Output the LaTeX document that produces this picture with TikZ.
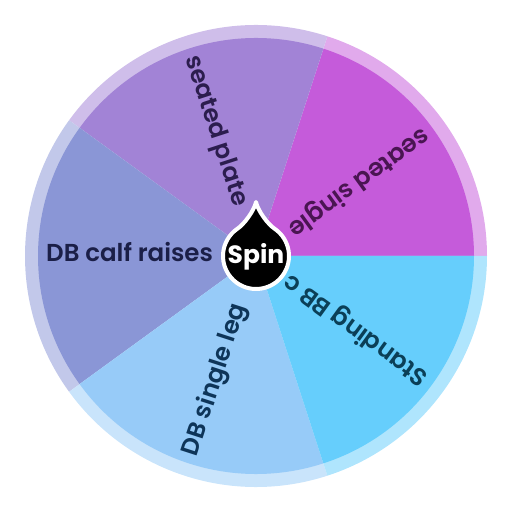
\documentclass[tikz,border=0pt]{standalone}
\usepackage{fontspec}
\newfontfamily\wheelfont{Poppins}[UprightFont=* Medium, BoldFont=* SemiBold]
\newfontfamily\spinfont{Poppins}[UprightFont=* Bold]
\definecolor{segA}{HTML}{C55BDA}
\definecolor{segB}{HTML}{A283D6}
\definecolor{segC}{HTML}{8A96D6}
\definecolor{segD}{HTML}{97CBF8}
\definecolor{segE}{HTML}{66CEFC}
\definecolor{txtA}{HTML}{4A1552}
\definecolor{txtB}{HTML}{2C1D4E}
\definecolor{txtC}{HTML}{1B1F48}
\definecolor{txtD}{HTML}{0E3559}
\definecolor{txtE}{HTML}{0B3F57}
\tikzset{
  wlabel/.style={font=\wheelfont\bfseries\fontsize{24.5}{25}\selectfont, inner sep=0pt, anchor=base west, transform shape},
}
\begin{document}
\begin{tikzpicture}[x=1pt,y=1pt]
\useasboundingbox (0,0) rectangle (512,512);
\coordinate (c) at (256,256);
% sectors with rings
\foreach \s/\col in {0/segA,72/segB,144/segC,216/segD,288/segE}{
  \fill[\col!52!white] (c) -- ++(\s:231) arc[start angle=\s, end angle=\s+72, radius=231] -- cycle;
  \fill[\col] (c) -- ++(\s:218) arc[start angle=\s, end angle=\s+72, radius=218] -- cycle;
}
% labels
\begin{scope}[shift={(c)}]
  \begin{scope}[rotate=216]
    \node[wlabel, text=txtA] (l1) at (-210,-6) {seated single};
  \end{scope}
  \begin{scope}[rotate=288]
    \node[wlabel, text=txtB] (l2) at (-210,-6) {seated plate};
  \end{scope}
  \begin{scope}[rotate=0]
    \node[wlabel, text=txtC] (l3) at (-210,-6) {DB calf raises};
  \end{scope}
  \begin{scope}[rotate=72]
    \node[wlabel, text=txtD] (l4) at (-210,-6) {DB single leg};
  \end{scope}
  \begin{scope}[rotate=144]
    \node[wlabel, text=txtE] (l5) at (-210,-6) {Standing BB c};
  \end{scope}
  % spin button
  \draw[fill=black, draw=white, line width=4pt, line join=round]
    (0,54) .. controls (2,45) and (12,31.5) .. (55:33)
    arc[start angle=55, end angle=-235, radius=33]
    .. controls (-12,31.5) and (-2,45) .. (0,54) -- cycle;
  \node[font=\spinfont\fontsize{25}{25}\selectfont, text=white, inner sep=0pt, anchor=base] (spin) at (0,-8) {Spin};
\end{scope}
\end{tikzpicture}
\end{document}
